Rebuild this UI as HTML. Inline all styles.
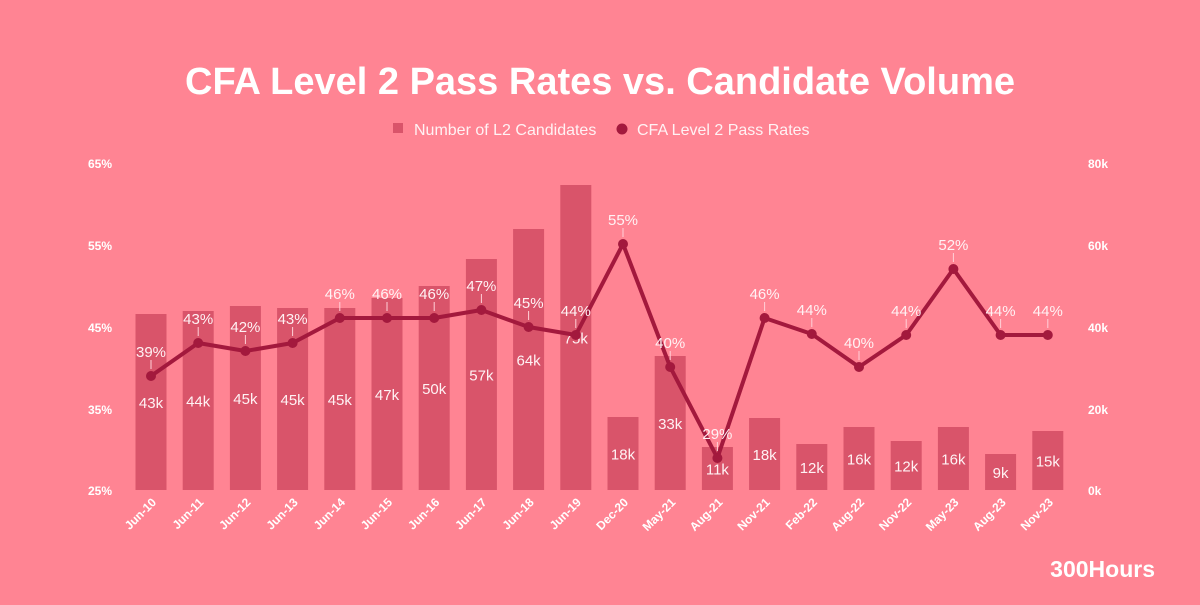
<!DOCTYPE html><html><head><meta charset="utf-8"><style>body{margin:0;width:1200px;height:600px;background:#ff8493;overflow:hidden}svg{font-family:"Liberation Sans",sans-serif}</style></head><body>
<svg width="1200" height="600" viewBox="0 0 1200 600">
<rect width="1200" height="600" fill="#ff8493"/>
<text x="600" y="94" text-anchor="middle" font-size="38" font-weight="bold" fill="#fff">CFA Level 2 Pass Rates vs. Candidate Volume</text>
<rect x="393" y="123" width="10" height="10" fill="#d9546a"/>
<text x="414" y="135" font-size="16" fill="#fff2f4">Number of L2 Candidates</text>
<circle cx="622" cy="129" r="5.5" fill="#a3193d"/>
<text x="637" y="135" font-size="16" fill="#fff2f4">CFA Level 2 Pass Rates</text>
<g font-size="12" font-weight="bold" fill="#fff">
<text x="88" y="168">65%</text><text x="88" y="250">55%</text><text x="88" y="332">45%</text><text x="88" y="414">35%</text><text x="88" y="495">25%</text>
<text x="1088" y="168">80k</text><text x="1088" y="250">60k</text><text x="1088" y="332">40k</text><text x="1088" y="414">20k</text><text x="1088" y="495">0k</text>
</g>
<g id="g"></g>
<text x="1155" y="577" text-anchor="end" font-size="23" font-weight="bold" fill="#fff">300Hours</text>
</svg>
<script>
(function(){
var lab=["Jun-10","Jun-11","Jun-12","Jun-13","Jun-14","Jun-15","Jun-16","Jun-17","Jun-18","Jun-19","Dec-20","May-21","Aug-21","Nov-21","Feb-22","Aug-22","Nov-22","May-23","Aug-23","Nov-23"];
var v=[43,44,45,45,45,47,50,57,64,75,18,33,11,18,12,16,12,16,9,15];
var p=[39,43,42,43,46,46,46,47,45,44,55,40,29,46,44,40,44,52,44,44];
var py=[376,343,351,343,318,318,318,310,327,335,244,367,458,318,334,367,335,269,335,335];
var bt=[314,311,306,308,308,298,286,259,229,185,417,356,447,418,444,427,441,427,454,431];
var s="",pts=[];
for(var i=0;i<20;i++){var cx=151+i*47.2;var ty=bt[i];
s+='<rect x="'+(cx-15.5)+'" y="'+ty+'" width="31" height="'+(490-ty)+'" fill="#d9546a"/>';
s+='<text x="'+cx+'" y="'+((ty+490)/2+6)+'" text-anchor="middle" font-size="15" fill="#fff2f4">'+v[i]+'k</text>';
s+='<text transform="translate('+(cx+6)+',503) rotate(-45)" text-anchor="end" font-size="12" font-weight="bold" fill="#fff">'+lab[i]+'</text>';
pts.push(cx+","+py[i]);}
s+='<polyline points="'+pts.join(" ")+'" fill="none" stroke="#a3193d" stroke-width="4" stroke-linejoin="round"/>';
for(var i=0;i<20;i++){var cx=151+i*47.2;
s+='<circle cx="'+cx+'" cy="'+py[i]+'" r="5" fill="#a3193d"/>';
s+='<line x1="'+cx+'" y1="'+(py[i]-7)+'" x2="'+cx+'" y2="'+(py[i]-16)+'" stroke="#ffd0d8" stroke-width="1"/>';
s+='<text x="'+cx+'" y="'+(py[i]-19)+'" text-anchor="middle" font-size="15" fill="#fff2f4">'+p[i]+'%</text>';}
document.getElementById("g").innerHTML=s;
})();
</script>
</body></html>
